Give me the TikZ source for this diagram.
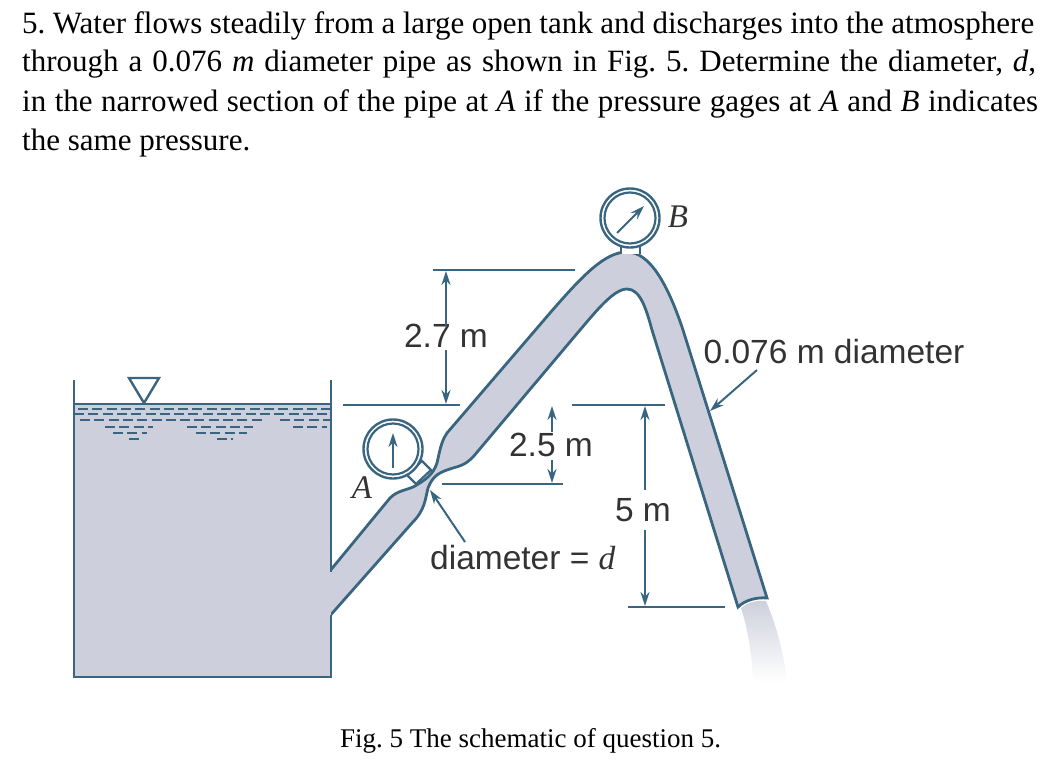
\documentclass[tikz,border=0pt]{standalone}
\usepackage{fontspec}
\setmainfont{Liberation Serif}
\setsansfont{Liberation Sans}
\usetikzlibrary{arrows.meta}
\definecolor{pipeline}{HTML}{3A6580}
\definecolor{waterfill}{HTML}{CDD0DC}
\definecolor{labeltext}{HTML}{333333}
\tikzset{
  wall/.style={draw=pipeline,line width=2.8pt},
  thinline/.style={draw=pipeline,line width=2pt},
  dimarrow/.style={thinline,-{Stealth[length=14pt,width=9pt]}},
  ripple/.style={draw=pipeline,line width=2pt,dash pattern=on 10pt off 4.3pt},
  bodyline/.style={anchor=base west,inner sep=0pt,font=\fontsize{31}{39}\selectfont},
  dimlabel/.style={inner sep=0pt,text=labeltext,font=\sffamily\fontsize{33.5}{38}\selectfont},
  ptlabel/.style={inner sep=0pt,text=labeltext,font=\itshape\fontsize{33}{38}\selectfont},
}
\begin{document}
\frenchspacing
\begin{tikzpicture}[x=1pt,y=-1pt]
\useasboundingbox (0,0) rectangle (1050,779);
% question text
\node[bodyline] (line1) at (22,33) {\makebox[1012pt][s]{5. Water flows steadily from a large open tank and discharges into the atmosphere}};
\node[bodyline] (line2) at (22,71) {\makebox[1014pt][s]{through a 0.076 \textit{m} diameter pipe as shown in Fig. 5. Determine the diameter, \textit{d},}};
\node[bodyline] (line3) at (22,111) {\makebox[1016pt][s]{in the narrowed section of the pipe at \textit{A} if the pressure gages at \textit{A} and \textit{B} indicates}};
\node[bodyline] (line4) at (22,150) {the same pressure.};
% pipe, its left end is hidden by the tank fill
\draw[wall,fill=waterfill] (320,583) -- (390,498) .. controls (398,490) and (408,490) .. (415,486)
  .. controls (425,480) and (433,475) .. (437,463) .. controls (440,450) and (441,442) .. (447,433)
  -- (550,313) .. controls (583,275) and (605,252) .. (627,252) .. controls (650,252) and (668,285) .. (683,330)
  -- (767,598) .. controls (757,597) and (745,600) .. (738,607)
  -- (652,330) .. controls (646,308) and (640,289) .. (627,289) .. controls (614,289) and (597,310) .. (580,330)
  -- (473,457) .. controls (465,465) and (460,466) .. (453,468) .. controls (440,472) and (433,475) .. (428,488)
  .. controls (425,500) and (425,510) .. (412,523) -- (320,627) -- cycle;
% jet
\shade[top color=waterfill,bottom color=white] (741,608) .. controls (748,602) and (758,600) .. (766,601)
  .. controls (778,630) and (784,655) .. (787,682) -- (753,682) .. controls (752,655) and (748,630) .. (741,608) -- cycle;
% tank
\fill[waterfill] (74,404) rectangle (331,677);
\draw[wall] (331,572) -- (331,380);
\draw[wall] (74,380) -- (74,677) -- (331,677) -- (331,615);
\draw[wall] (74,404) -- (331,404);
\draw[wall,line width=2.4pt] (129,378) -- (159,378) -- (144,403) -- cycle;
% ripples
\foreach \xa/\xb/\ya in {78/330/409,74/330/414,80/262/420,280/330/420,105/153/427,187/253/427,293/327/427,113/147/433,196/247/433,129/140/439,217/233/439}
  \draw[ripple] (\xa,\ya) -- (\xb,\ya);
% gage A
\draw[wall,line width=2.2pt,fill=white] (407,475) -- (416,484) -- (431,470) -- (422,461) -- cycle;
\node[circle,draw=pipeline,line width=2.4pt,fill=white,minimum size=59pt,inner sep=0pt] (gageA) at (393,449) {};
\draw[thinline,line width=2.2pt] (gageA) circle (25.5pt);
\draw[dimarrow] (393,468) -- (393,433);
% gage B
\draw[wall,line width=2.2pt,fill=white] (621,254) -- (621,246) -- (640,246) -- (640,254);
\node[circle,draw=pipeline,line width=2.4pt,fill=white,minimum size=59pt,inner sep=0pt] (gageB) at (630,218) {};
\draw[thinline,line width=2.2pt] (gageB) circle (25.5pt);
\draw[dimarrow] (617,233) -- (644,206);
\node[ptlabel] (labelA) at (362,488) {A};
\node[ptlabel] (labelB) at (678,217) {B};
% dimensions
\draw[thinline] (433,270) -- (575,270);
\draw[thinline] (343,405) -- (460,405);
\draw[thinline] (572,405) -- (665,405);
\draw[thinline] (442,484) -- (563,484);
\draw[thinline] (628,607) -- (725,607);
\node[dimlabel] (dimtwoseven) at (446,336) {2.7 m};
\node[dimlabel] (dimtwofive) at (551,445) {2.5 m};
\node[dimlabel] (dimfive) at (643,510) {5 m};
\node[dimlabel] (pipelabel) at (834,352) {0.076 m diameter};
\node[dimlabel,anchor=base west] (throatlabel) at (430,569) {diameter = \textit{\rmfamily d}};
\draw[dimarrow] (446,327) -- (446,271);
\draw[dimarrow] (446,350) -- (446,404);
\draw[dimarrow] (552,432) -- (552,406);
\draw[dimarrow] (552,460) -- (552,483);
\draw[dimarrow] (645,490) -- (645,406);
\draw[dimarrow] (645,530) -- (645,606);
\draw[dimarrow] (757,370) -- (710,411);
\draw[dimarrow] (465,542) -- (430,490);
% caption
\node[bodyline,font=\fontsize{27}{32}\selectfont] (caption) at (340,747) {Fig. 5 The schematic of question 5.};
\end{tikzpicture}
\end{document}
